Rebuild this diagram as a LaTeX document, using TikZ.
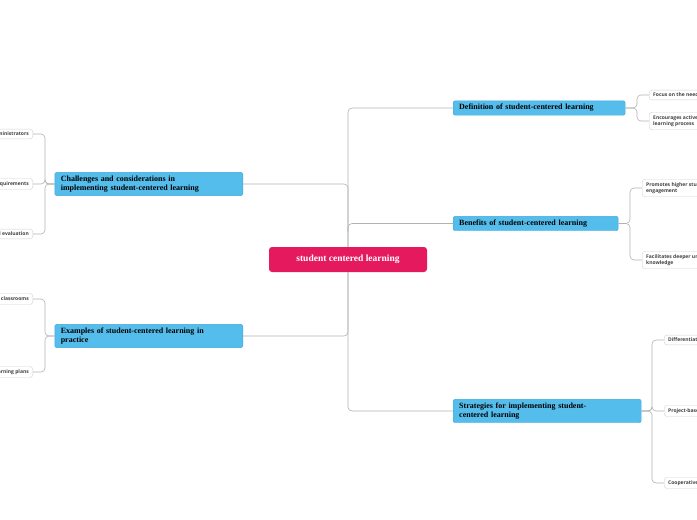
\documentclass[tikz,border=0pt]{standalone}
\usepackage{fontspec}
\setmainfont{Liberation Serif}
\newfontfamily\leaffont{Open Sans}
\definecolor{sky}{HTML}{55BDEC}
\definecolor{skyb}{HTML}{3FA9DD}
\definecolor{rootc}{HTML}{E5195E}
\begin{document}
\begin{tikzpicture}[x=1pt,y=-1pt,
  conn/.style={draw=gray!60, line width=0.6pt, rounded corners=4pt},
  branch/.style={draw=skyb, fill=sky, rounded corners=2pt, inner xsep=6pt, inner ysep=3.5pt, font=\bfseries\fontsize{8}{9}\selectfont, align=left, text=black},
  leaf/.style={draw=gray!35, fill=white, rounded corners=3pt, inner xsep=4pt, inner ysep=3pt, font=\leaffont\bfseries\fontsize{5}{6.5}\selectfont, text=black!75, align=left},
  root/.style={fill=rootc, rounded corners=3pt, text=white, font=\bfseries\fontsize{9.5}{10}\selectfont, minimum width=158pt, minimum height=25pt}]
\useasboundingbox (0,0) rectangle (697,520);
\clip (0,0) rectangle (697,520);
\node[root] (c) at (348,259.5) {student centered learning};
\node[branch, anchor=west, text width=160pt] (def) at (453,108) {Definition of student-centered learning};
\node[branch, anchor=west, text width=153pt] (ben) at (453,223.5) {Benefits of student-centered learning};
\node[branch, anchor=west, text width=176pt] (str) at (453,411) {Strategies for implementing student-\\centered learning};
\node[branch, anchor=east, text width=176pt] (cha) at (243,184) {Challenges and considerations in\\implementing student-centered learning};
\node[branch, anchor=east, text width=176pt] (exa) at (243,336) {Examples of student-centered learning in\\practice};
% leaves left
\node[leaf, anchor=east] (l1) at (33,134) {Involvement of administrators};
\node[leaf, anchor=east] (l2) at (33,184) {Time and resource requirements};
\node[leaf, anchor=east] (l3) at (33,234) {Assessment and evaluation};
\node[leaf, anchor=east] (l4) at (33,299) {Flipped classrooms};
\node[leaf, anchor=east] (l5) at (33,372) {Individualized learning plans};
% leaves right
\node[leaf, anchor=west] (r1) at (649,95) {Focus on the needs of students};
\node[leaf, anchor=west] (r2) at (649,121) {Encourages active participation in the\\learning process};
\node[leaf, anchor=west] (r3) at (642,188) {Promotes higher student\\engagement};
\node[leaf, anchor=west] (r4) at (642,260) {Facilitates deeper understanding of\\knowledge};
\node[leaf, anchor=west] (r5) at (664,340) {Differentiated instruction};
\node[leaf, anchor=west] (r6) at (664,411) {Project-based learning};
\node[leaf, anchor=west] (r7) at (664,483) {Cooperative learning};
% trunk
\draw[conn] (c.north) -- (348,232) |- (def.west);
\draw[conn] (348,232) |- (ben.west);
\draw[conn] (c.south) |- (str.west);
\draw[conn] (c.north) -- (348,232) |- (cha.east);
\draw[conn] (c.south) |- (exa.east);
% brackets
\foreach \l in {r1,r2} \draw[conn] (def.east) -- (637,108) |- (\l.west);
\foreach \l in {r3,r4} \draw[conn] (ben.east) -- (630,223.5) |- (\l.west);
\foreach \l in {r5,r6,r7} \draw[conn] (str.east) -- (652,411) |- (\l.west);
\foreach \l in {l1,l2,l3} \draw[conn] (cha.west) -- (45,184) |- (\l.east);
\foreach \l in {l4,l5} \draw[conn] (exa.west) -- (45,336) |- (\l.east);
\end{tikzpicture}
\end{document}
